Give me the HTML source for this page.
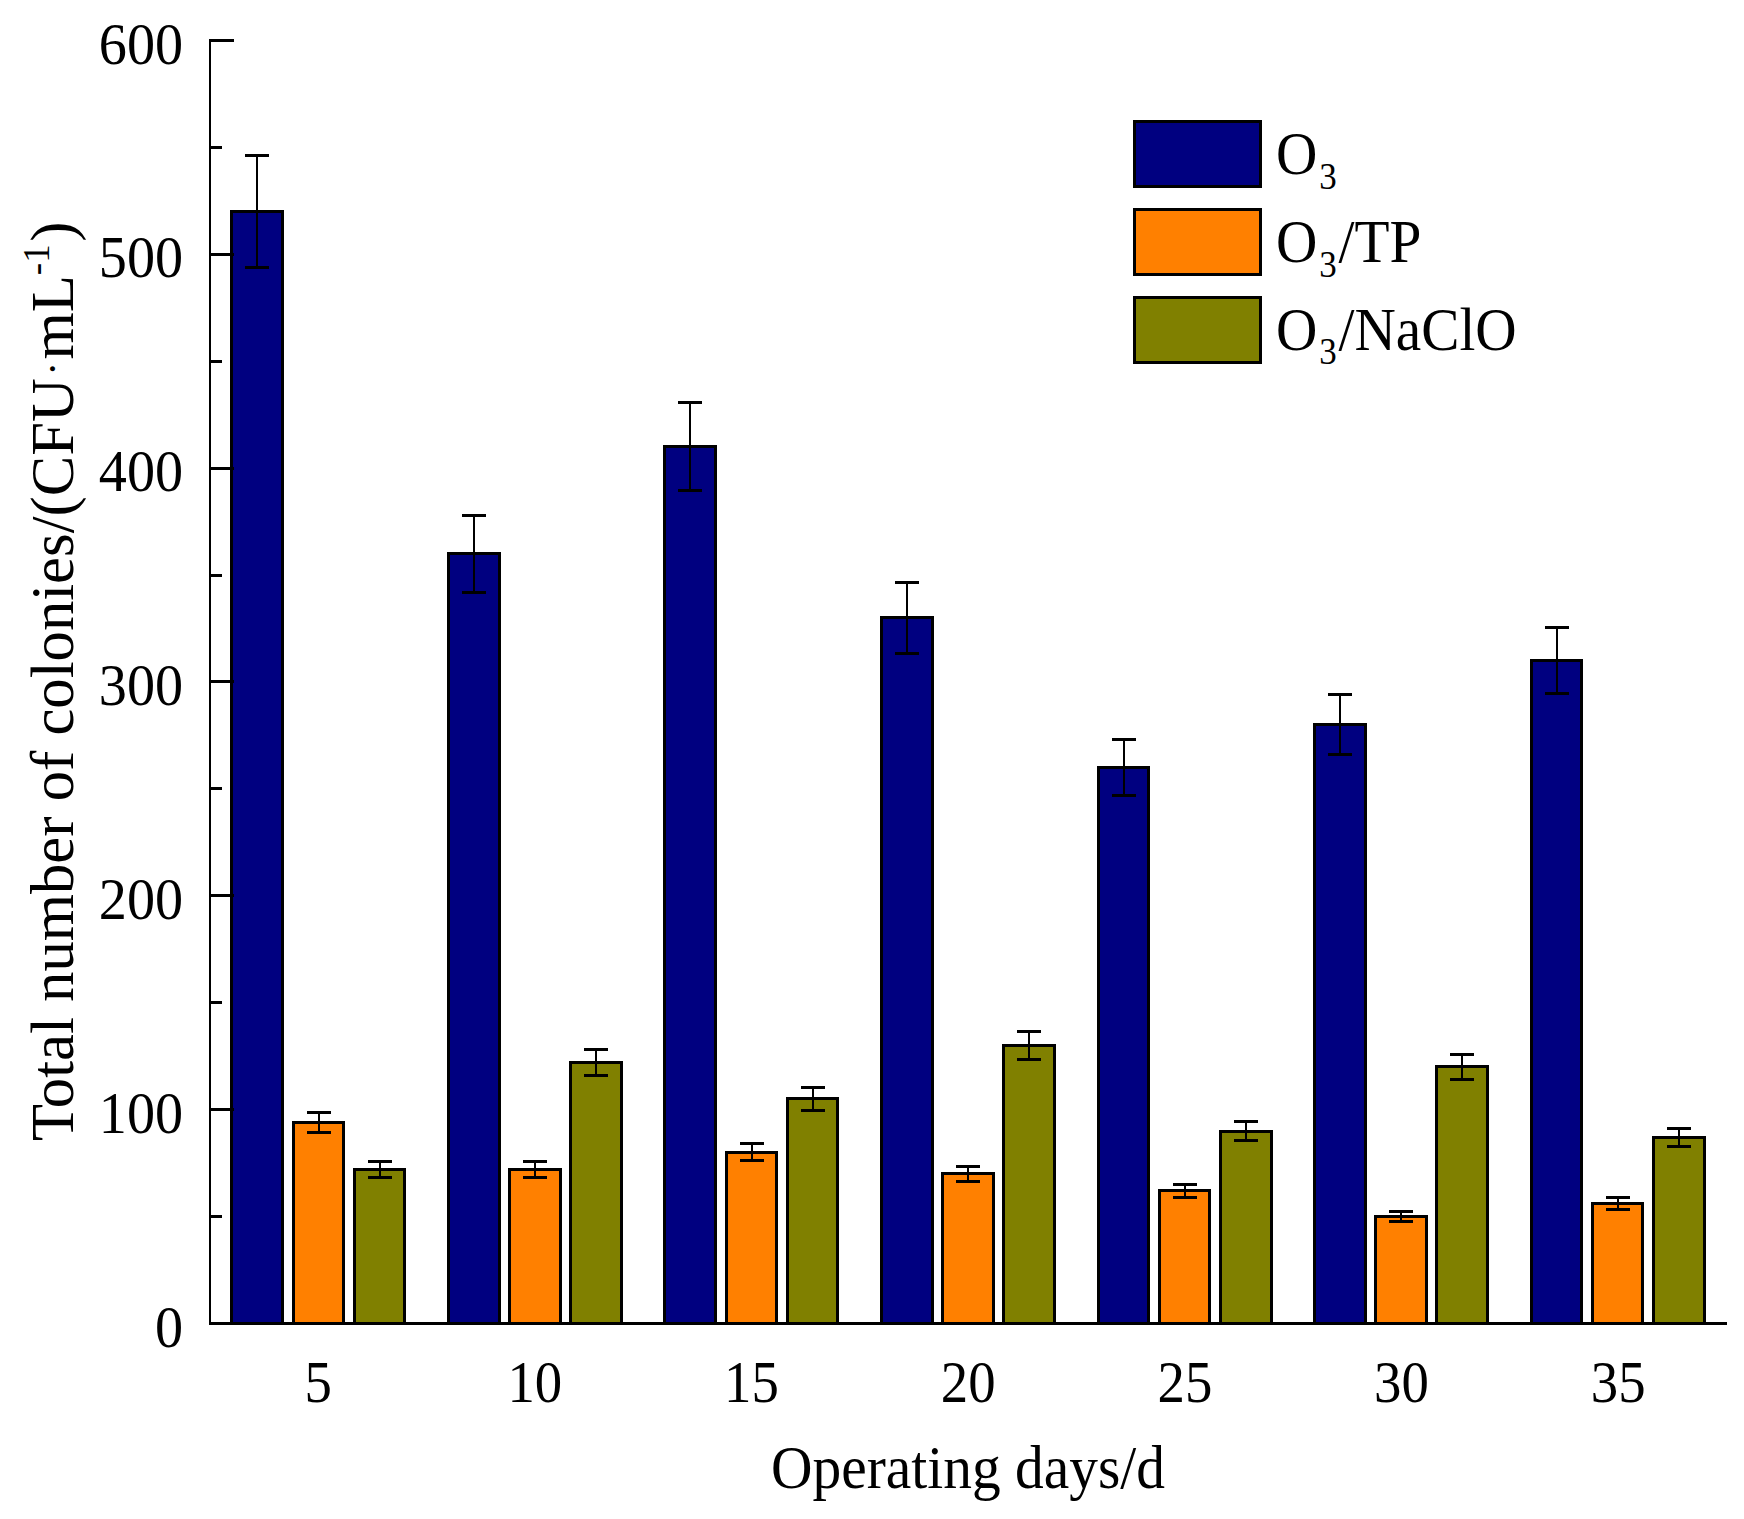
<!DOCTYPE html>
<html lang="en"><head><meta charset="utf-8"><title>Total number of colonies</title>
<style>html,body{margin:0;padding:0;background:#fff}svg{display:block}text{font-family:"Liberation Serif","Times New Roman",serif;fill:#000}.tk{font-size:60px}.lb{font-size:60.5px}.lg{font-size:60.6px}</style></head><body>
<svg width="1744" height="1519" viewBox="0 0 1744 1519">
<rect width="1744" height="1519" fill="#fff"/>
<g shape-rendering="crispEdges" stroke="#000" stroke-width="3">
<rect x="231.5" y="211.5" width="51" height="1112.0" fill="#000080"/>
<rect x="293.5" y="1122.5" width="50" height="201.0" fill="#ff8000"/>
<rect x="354.5" y="1169.5" width="50" height="154.0" fill="#808000"/>
<rect x="448.5" y="553.5" width="51" height="770.0" fill="#000080"/>
<rect x="509.5" y="1169.5" width="51" height="154.0" fill="#ff8000"/>
<rect x="570.5" y="1062.5" width="51" height="261.0" fill="#808000"/>
<rect x="664.5" y="446.5" width="51" height="877.0" fill="#000080"/>
<rect x="726.5" y="1152.5" width="50" height="171.0" fill="#ff8000"/>
<rect x="787.5" y="1098.5" width="50" height="225.0" fill="#808000"/>
<rect x="881.5" y="617.5" width="51" height="706.0" fill="#000080"/>
<rect x="942.5" y="1173.5" width="51" height="150.0" fill="#ff8000"/>
<rect x="1003.5" y="1045.5" width="51" height="278.0" fill="#808000"/>
<rect x="1098.5" y="767.5" width="50" height="556.0" fill="#000080"/>
<rect x="1159.5" y="1190.5" width="50" height="133.0" fill="#ff8000"/>
<rect x="1220.5" y="1131.5" width="51" height="192.0" fill="#808000"/>
<rect x="1314.5" y="724.5" width="51" height="599.0" fill="#000080"/>
<rect x="1375.5" y="1216.5" width="51" height="107.0" fill="#ff8000"/>
<rect x="1436.5" y="1066.5" width="51" height="257.0" fill="#808000"/>
<rect x="1531.5" y="660.5" width="50" height="663.0" fill="#000080"/>
<rect x="1592.5" y="1203.5" width="50" height="120.0" fill="#ff8000"/>
<rect x="1653.5" y="1137.5" width="51" height="186.0" fill="#808000"/>
</g>
<g shape-rendering="crispEdges" fill="#000">
<rect x="256" y="154" width="2" height="115"/>
<rect x="245" y="154" width="24" height="3"/>
<rect x="245" y="266" width="24" height="3"/>
<rect x="318" y="1111" width="2" height="23"/>
<rect x="307" y="1111" width="24" height="3"/>
<rect x="307" y="1131" width="24" height="3"/>
<rect x="379" y="1160" width="2" height="19"/>
<rect x="368" y="1160" width="24" height="3"/>
<rect x="368" y="1176" width="24" height="3"/>
<rect x="473" y="514" width="2" height="80"/>
<rect x="462" y="514" width="24" height="3"/>
<rect x="462" y="591" width="24" height="3"/>
<rect x="534" y="1160" width="2" height="19"/>
<rect x="523" y="1160" width="24" height="3"/>
<rect x="523" y="1176" width="24" height="3"/>
<rect x="595" y="1048" width="2" height="29"/>
<rect x="584" y="1048" width="24" height="3"/>
<rect x="584" y="1074" width="24" height="3"/>
<rect x="689" y="401" width="2" height="91"/>
<rect x="678" y="401" width="24" height="3"/>
<rect x="678" y="489" width="24" height="3"/>
<rect x="751" y="1142" width="2" height="20"/>
<rect x="740" y="1142" width="24" height="3"/>
<rect x="740" y="1159" width="24" height="3"/>
<rect x="812" y="1086" width="2" height="26"/>
<rect x="801" y="1086" width="24" height="3"/>
<rect x="801" y="1109" width="24" height="3"/>
<rect x="906" y="581" width="2" height="74"/>
<rect x="895" y="581" width="24" height="3"/>
<rect x="895" y="652" width="24" height="3"/>
<rect x="967" y="1165" width="2" height="18"/>
<rect x="956" y="1165" width="24" height="3"/>
<rect x="956" y="1180" width="24" height="3"/>
<rect x="1028" y="1030" width="2" height="31"/>
<rect x="1017" y="1030" width="24" height="3"/>
<rect x="1017" y="1058" width="24" height="3"/>
<rect x="1123" y="738" width="2" height="59"/>
<rect x="1112" y="738" width="24" height="3"/>
<rect x="1112" y="794" width="24" height="3"/>
<rect x="1184" y="1183" width="2" height="16"/>
<rect x="1173" y="1183" width="24" height="3"/>
<rect x="1173" y="1196" width="24" height="3"/>
<rect x="1245" y="1120" width="2" height="22"/>
<rect x="1234" y="1120" width="24" height="3"/>
<rect x="1234" y="1139" width="24" height="3"/>
<rect x="1339" y="693" width="2" height="63"/>
<rect x="1328" y="693" width="24" height="3"/>
<rect x="1328" y="753" width="24" height="3"/>
<rect x="1400" y="1210" width="2" height="13"/>
<rect x="1389" y="1210" width="24" height="3"/>
<rect x="1389" y="1220" width="24" height="3"/>
<rect x="1461" y="1053" width="2" height="28"/>
<rect x="1450" y="1053" width="24" height="3"/>
<rect x="1450" y="1078" width="24" height="3"/>
<rect x="1556" y="626" width="2" height="69"/>
<rect x="1545" y="626" width="24" height="3"/>
<rect x="1545" y="692" width="24" height="3"/>
<rect x="1617" y="1196" width="2" height="15"/>
<rect x="1606" y="1196" width="24" height="3"/>
<rect x="1606" y="1208" width="24" height="3"/>
<rect x="1678" y="1127" width="2" height="21"/>
<rect x="1667" y="1127" width="24" height="3"/>
<rect x="1667" y="1145" width="24" height="3"/>
<rect x="209" y="39" width="2" height="1286"/>
<rect x="209" y="1322" width="1518" height="3"/>
<rect x="209" y="1215" width="13" height="3"/>
<rect x="209" y="1108" width="25" height="3"/>
<rect x="209" y="1001" width="13" height="3"/>
<rect x="209" y="894" width="25" height="3"/>
<rect x="209" y="787" width="13" height="3"/>
<rect x="209" y="680" width="25" height="3"/>
<rect x="209" y="574" width="13" height="3"/>
<rect x="209" y="467" width="25" height="3"/>
<rect x="209" y="360" width="13" height="3"/>
<rect x="209" y="253" width="25" height="3"/>
<rect x="209" y="146" width="13" height="3"/>
<rect x="209" y="39" width="25" height="3"/>
</g>
<text class="tk" x="155.0" y="1346.6" textLength="28.1" lengthAdjust="spacingAndGlyphs">0</text>
<text class="tk" x="98.8" y="1132.8" textLength="84.30000000000001" lengthAdjust="spacingAndGlyphs">100</text>
<text class="tk" x="98.8" y="918.9" textLength="84.30000000000001" lengthAdjust="spacingAndGlyphs">200</text>
<text class="tk" x="98.8" y="705.1" textLength="84.30000000000001" lengthAdjust="spacingAndGlyphs">300</text>
<text class="tk" x="98.8" y="491.3" textLength="84.30000000000001" lengthAdjust="spacingAndGlyphs">400</text>
<text class="tk" x="98.8" y="277.4" textLength="84.30000000000001" lengthAdjust="spacingAndGlyphs">500</text>
<text class="tk" x="98.8" y="63.6" textLength="84.30000000000001" lengthAdjust="spacingAndGlyphs">600</text>
<text class="tk" x="304.4" y="1402" textLength="27.4" lengthAdjust="spacingAndGlyphs">5</text>
<text class="tk" x="507.4" y="1402" textLength="54.8" lengthAdjust="spacingAndGlyphs">10</text>
<text class="tk" x="724.1" y="1402" textLength="54.8" lengthAdjust="spacingAndGlyphs">15</text>
<text class="tk" x="940.8" y="1402" textLength="54.8" lengthAdjust="spacingAndGlyphs">20</text>
<text class="tk" x="1157.5" y="1402" textLength="54.8" lengthAdjust="spacingAndGlyphs">25</text>
<text class="tk" x="1374.1" y="1402" textLength="54.8" lengthAdjust="spacingAndGlyphs">30</text>
<text class="tk" x="1590.8" y="1402" textLength="54.8" lengthAdjust="spacingAndGlyphs">35</text>
<text class="lb" x="771" y="1488" textLength="394" lengthAdjust="spacingAndGlyphs">Operating days/d</text>
<text class="lb" transform="translate(73,1141) rotate(-90)" textLength="919.5" lengthAdjust="spacingAndGlyphs">Total number of colonies/(CFU<tspan font-size="42" dx="2.3" dy="-6.5">·</tspan><tspan dx="2.3" dy="6.5">mL</tspan><tspan font-size="37" dy="-24">-1</tspan><tspan dy="24" dx="2.5">)</tspan></text>
<g shape-rendering="crispEdges" stroke="#000" stroke-width="3">
<rect x="1134.5" y="121.5" width="126" height="65" fill="#000080"/>
<rect x="1134.5" y="209.5" width="126" height="65" fill="#ff8000"/>
<rect x="1134.5" y="297.5" width="126" height="65" fill="#808000"/>
</g>
<text class="lg" transform="translate(1276,173.8) scale(0.945,1)">O<tspan font-size="37" dy="14.7" dx="2">3</tspan></text>
<text class="lg" transform="translate(1276,261.9) scale(0.945,1)">O<tspan font-size="37" dy="14.7" dx="2">3</tspan><tspan dy="-14.7" dx="2">/TP</tspan></text>
<text class="lg" transform="translate(1276,349.7) scale(0.945,1)">O<tspan font-size="37" dy="14.7" dx="2">3</tspan><tspan dy="-14.7" dx="2">/NaClO</tspan></text>
</svg></body></html>
